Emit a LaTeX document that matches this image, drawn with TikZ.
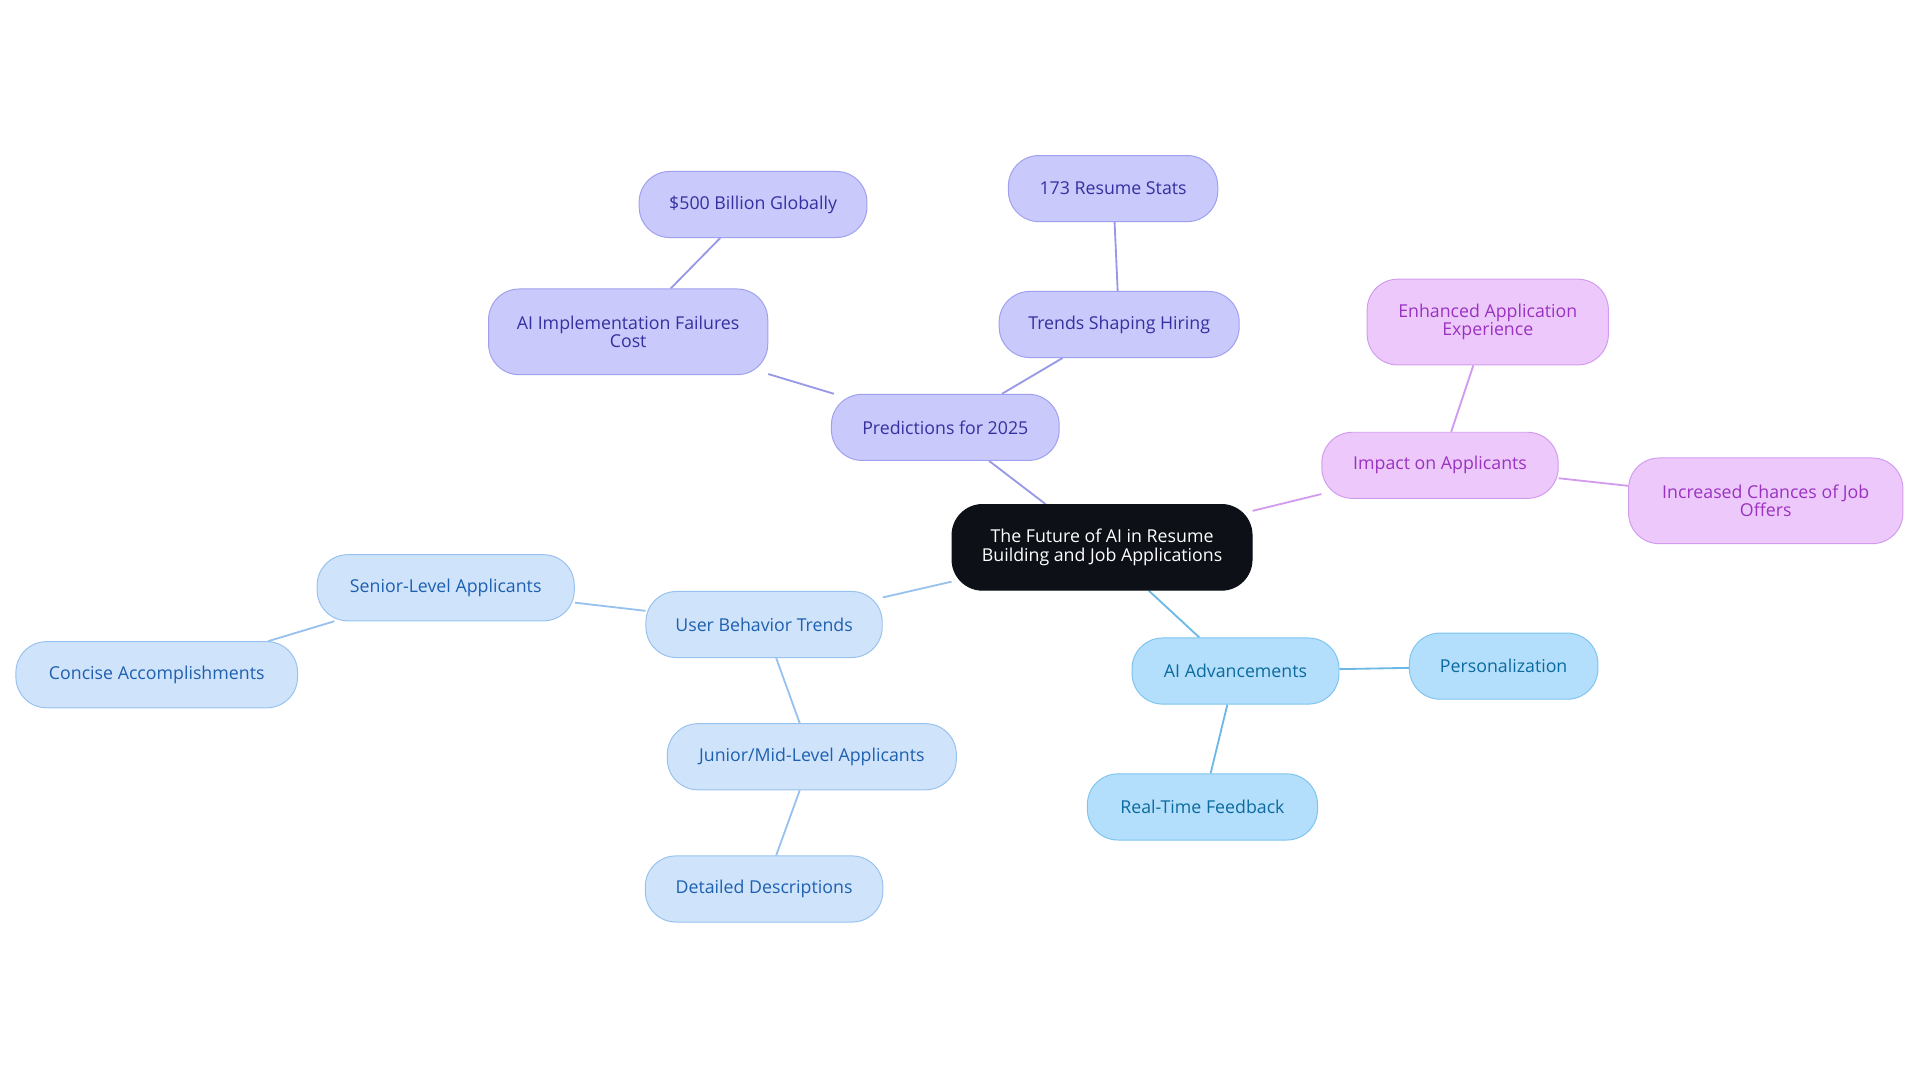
\documentclass[tikz,border=0pt]{standalone}
\usepackage{fontspec}
\setmainfont{Open Sans}
\usetikzlibrary{backgrounds}
\begin{document}
\begin{tikzpicture}[x=1pt,y=-1pt,
 nd/.style={rounded corners=25pt,draw,line width=0.8pt,align=center,minimum height=54pt,inner sep=2pt,font=\fontsize{14.5}{15}\selectfont},
 bl/.style={nd,fill=cBf,draw=cBd,text=cBt},
 pu/.style={nd,fill=cPf,draw=cPd,text=cPt},
 vi/.style={nd,fill=cVf,draw=cVd,text=cVt},
 cy/.style={nd,fill=cCf,draw=cCd,text=cCt},
 eB/.style={draw=cBd,line width=1.5pt},
 eP/.style={draw=cPe,line width=1.5pt},
 eV/.style={draw=cVd,line width=1.5pt},
 eC/.style={draw=cCe,line width=1.5pt}]
\definecolor{cBf}{HTML}{CFE3FB}\definecolor{cBd}{HTML}{98C2EE}\definecolor{cBt}{HTML}{1E60B0}
\definecolor{cPf}{HTML}{C9C9FB}\definecolor{cPd}{HTML}{A0A0F0}\definecolor{cPt}{HTML}{3530A0}\definecolor{cPe}{HTML}{9898E8}
\definecolor{cVf}{HTML}{EDC9FB}\definecolor{cVd}{HTML}{D39BEE}\definecolor{cVt}{HTML}{9A32C0}
\definecolor{cCf}{HTML}{B4DFFC}\definecolor{cCd}{HTML}{7EC4EE}\definecolor{cCt}{HTML}{0B6A9E}\definecolor{cCe}{HTML}{6CB8E6}
\definecolor{cRoot}{HTML}{0D1117}
\useasboundingbox (0,0) rectangle (1568,884);
\node[nd,fill=cRoot,draw=cRoot,text=white,minimum width=245pt,minimum height=70pt] (root) at (900,447) {The Future of AI in Resume\\Building and Job Applications};
\node[pu,minimum width=186pt] (pred) at (772,349) {Predictions for 2025};
\node[pu,minimum width=228pt,minimum height=70pt] (fail) at (513,271) {AI Implementation Failures\\Cost};
\node[pu,minimum width=186pt] (bil) at (615,167) {\$500 Billion Globally};
\node[pu,minimum width=196pt] (trend) at (914,265) {Trends Shaping Hiring};
\node[pu,minimum width=171pt] (stat) at (909,154) {173 Resume Stats};
\node[vi,minimum width=193pt] (imp) at (1176,380) {Impact on Applicants};
\node[vi,minimum width=197pt,minimum height=70pt] (enh) at (1215,263) {Enhanced Application\\Experience};
\node[vi,minimum width=224pt,minimum height=70pt] (inc) at (1442,409) {Increased Chances of Job\\Offers};
\node[bl,minimum width=193pt] (user) at (624,510) {User Behavior Trends};
\node[bl,minimum width=210pt] (sen) at (364,480) {Senior-Level Applicants};
\node[bl,minimum width=230pt] (con) at (128,551) {Concise Accomplishments};
\node[bl,minimum width=236pt] (jun) at (663,618) {Junior/Mid-Level Applicants};
\node[bl,minimum width=194pt] (det) at (624,726) {Detailed Descriptions};
\node[cy,minimum width=169pt] (adv) at (1009,548) {AI Advancements};
\node[cy,minimum width=154pt] (pers) at (1228,544) {Personalization};
\node[cy,minimum width=188pt] (rt) at (982,659) {Real-Time Feedback};
\begin{scope}[on background layer]
\draw[eP] (root) -- (pred); \draw[eP] (pred) -- (fail); \draw[eP] (fail) -- (bil);
\draw[eP] (pred) -- (trend); \draw[eP] (trend) -- (stat);
\draw[eV] (root) -- (imp); \draw[eV] (imp) -- (enh); \draw[eV] (imp) -- (inc);
\draw[eB] (root) -- (user); \draw[eB] (user) -- (sen); \draw[eB] (sen) -- (con);
\draw[eB] (user) -- (jun); \draw[eB] (jun) -- (det);
\draw[eC] (root) -- (adv); \draw[eC] (adv) -- (pers); \draw[eC] (adv) -- (rt);
\end{scope}
\end{tikzpicture}
\end{document}
